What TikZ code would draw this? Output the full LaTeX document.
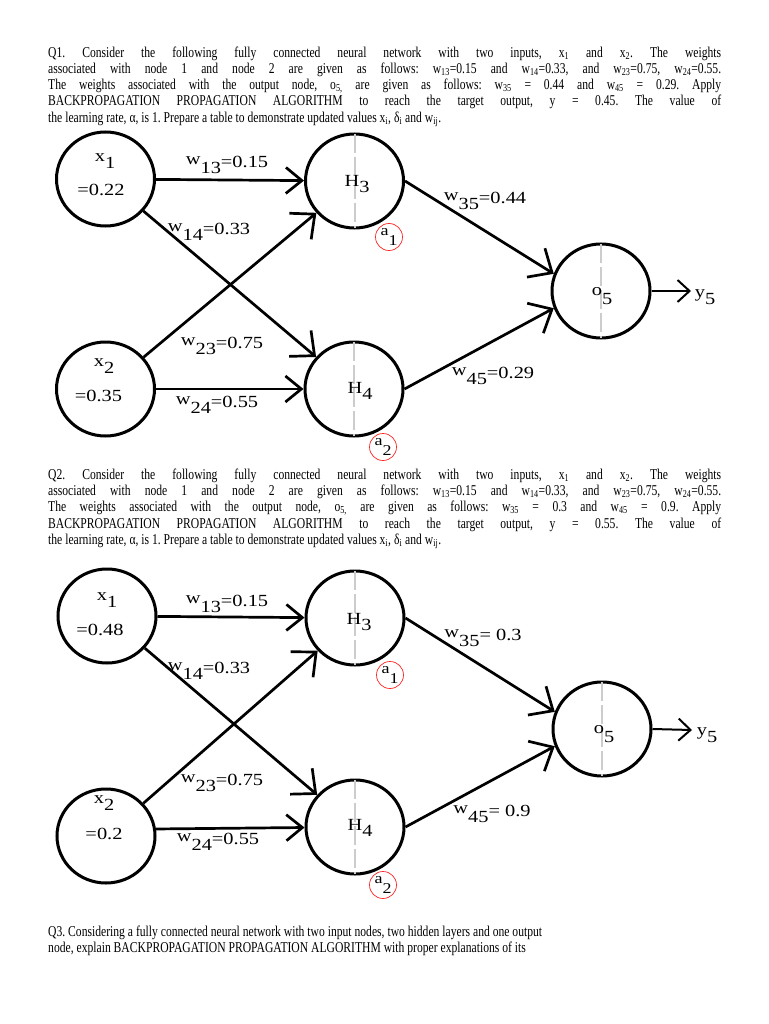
\documentclass[tikz,border=0pt]{standalone}
\usepackage{fontspec}
\setmainfont{Liberation Serif}[FakeStretch=0.775]
\newfontfamily\dgfont{Liberation Serif}[FakeStretch=1.2]
\usetikzlibrary{arrows.meta,shapes.geometric}
\newcommand\sbx[1]{\raisebox{-6.5pt}{#1}}
\newcommand\upx[1]{\raisebox{3pt}{#1}}
\newcommand\wlab[2]{\upx{w}\sbx{#1}#2}
\frenchspacing
\begin{document}
\begin{tikzpicture}[x=1pt,y=-1pt,
  neuron/.style={draw, line width=3pt, ellipse, minimum width=98pt, minimum height=94pt, inner sep=0pt},
  txt/.style={anchor=base west, inner sep=0pt, font=\fontsize{15}{18}\selectfont},
  lbl/.style={inner sep=0pt, font=\dgfont\fontsize{17}{20}\selectfont},
  edge/.style={line width=2.7pt, -{Straight Barb[length=16pt,width=26pt]}},
  dedge/.style={line width=2.7pt, -{Straight Barb[length=19pt,width=34pt]}},
  outedge/.style={line width=2pt, -{Straight Barb[length=12pt,width=22pt]}},
  hline/.style={gray!40, line width=2pt, dash pattern=on 19pt off 4pt, shorten <=1.5pt, shorten >=1.5pt},
  act/.style={circle, draw=red!85, line width=0.7pt, minimum size=27pt, inner sep=0pt, font=\dgfont\fontsize{15}{18}\selectfont}]
\useasboundingbox[fill=white] (0,0) rectangle (768,1024);

% ---------------- Q1 text ----------------
\node[txt] (q1a) at (48,57.3) {\makebox[673pt][s]{Q1. Consider the following fully connected neural network with two inputs, x\textsubscript{1} and x\textsubscript{2}. The weights}};
\node[txt] (q1b) at (48,73.5) {\makebox[673pt][s]{associated with node 1 and node 2 are given as follows: w\textsubscript{13}=0.15 and w\textsubscript{14}=0.33, and w\textsubscript{23}=0.75, w\textsubscript{24}=0.55.}};
\node[txt] (q1c) at (48,89.8) {\makebox[673pt][s]{The weights associated with the output node, o\textsubscript{5,} are given as follows: w\textsubscript{35} = 0.44 and w\textsubscript{45} = 0.29. Apply}};
\node[txt] (q1d) at (48,106) {\makebox[673pt][s]{BACKPROPAGATION PROPAGATION ALGORITHM to reach the target output, y = 0.45. The value of}};
\node[txt] (q1e) at (48,122.3) {the learning rate, α, is 1. Prepare a table to demonstrate updated values x\textsubscript{i}, δ\textsubscript{i} and w\textsubscript{ij}.};

% ---------------- Diagram 1 ----------------
\node[neuron] (x1) at (105.5,179) {};
\node[neuron] (x2) at (105.5,389) {};
\node[neuron] (h3) at (354.5,181) {};
\node[neuron] (h4) at (354,389) {};
\node[neuron] (o5) at (601,291) {};
\draw[hline] (h3.north) -- (h3.south);
\draw[hline] (h4.north) -- (h4.south);
\draw[hline] (o5.north) -- (o5.south);
\draw[edge] (x1) -- (h3);
\draw[dedge] (x1) -- (h4);
\draw[dedge] (x2) -- (h3);
\draw[edge] (x2) -- (h4);
\draw[dedge] (h3.east) -- (o5.160);
\draw[dedge] (h4.east) -- (o5.200);
\coordinate (y5a) at (691,291);
\draw[outedge] (o5.east) -- (y5a);
\node[lbl] (x1n) at (105,161) {x\sbx{1}};
\node[lbl] (x1v) at (101,189.5) {=0.22};
\node[lbl] (x2n) at (104,366) {x\sbx{2}};
\node[lbl] (x2v) at (98.5,396) {=0.35};
\node[lbl] (w13) at (227,165) {\wlab{13}{=0.15}};
\node[lbl] (w14) at (209,232) {\wlab{14}{=0.33}};
\node[lbl] (w23) at (222,346) {\wlab{23}{=0.75}};
\node[lbl] (w24) at (217,405) {\wlab{24}{=0.55}};
\node[lbl] (w35) at (485,201) {\wlab{35}{=0.44}};
\node[lbl] (w45) at (493,376) {\wlab{45}{=0.29}};
\node[lbl] (h3n) at (357,184) {H\sbx{3}};
\node[lbl] (h4n) at (360,391) {H\sbx{4}};
\node[lbl] (o5n) at (602,296) {\upx{o}\sbx{5}};
\node[lbl] (y5n) at (705,297) {y\sbx{5}};
\node[act] (a1) at (389,237) {\upx{a}\sbx{1}};
\node[act] (a2) at (383,447) {\upx{a}\sbx{2}};

% ---------------- Q2 text ----------------
\node[txt] (q2a) at (48,479) {\makebox[673pt][s]{Q2. Consider the following fully connected neural network with two inputs, x\textsubscript{1} and x\textsubscript{2}. The weights}};
\node[txt] (q2b) at (48,495.5) {\makebox[673pt][s]{associated with node 1 and node 2 are given as follows: w\textsubscript{13}=0.15 and w\textsubscript{14}=0.33, and w\textsubscript{23}=0.75, w\textsubscript{24}=0.55.}};
\node[txt] (q2c) at (48,511.8) {\makebox[673pt][s]{The weights associated with the output node, o\textsubscript{5,} are given as follows: w\textsubscript{35} = 0.3 and w\textsubscript{45} = 0.9. Apply}};
\node[txt] (q2d) at (48,528) {\makebox[673pt][s]{BACKPROPAGATION PROPAGATION ALGORITHM to reach the target output, y = 0.55. The value of}};
\node[txt] (q2e) at (48,544.3) {the learning rate, α, is 1. Prepare a table to demonstrate updated values x\textsubscript{i}, δ\textsubscript{i} and w\textsubscript{ij}.};

% ---------------- Diagram 2 ----------------
\node[neuron] (x1b) at (107,616) {};
\node[neuron] (x2b) at (106,836) {};
\node[neuron] (h3b) at (355,618) {};
\node[neuron] (h4b) at (355,827) {};
\node[neuron] (o5b) at (602,729) {};
\draw[hline] (h3b.north) -- (h3b.south);
\draw[hline] (h4b.north) -- (h4b.south);
\draw[hline] (o5b.north) -- (o5b.south);
\draw[edge] (x1b) -- (h3b);
\draw[dedge] (x1b) -- (h4b);
\draw[dedge] (x2b) -- (h3b);
\draw[edge] (x2b.8) -- (h4b);
\draw[dedge] (h3b.east) -- (o5b.160);
\draw[dedge] (h4b.east) -- (o5b.200);
\coordinate (y5b) at (692,730);
\draw[outedge] (o5b.east) -- (y5b);
\node[lbl] (x1bn) at (107,600) {x\sbx{1}};
\node[lbl] (x1bv) at (100,630) {=0.48};
\node[lbl] (x2bn) at (104,803) {x\sbx{2}};
\node[lbl] (x2bv) at (104,834) {=0.2};
\node[lbl] (w13b) at (227,604) {\wlab{13}{=0.15}};
\node[lbl] (w14b) at (209,671) {\wlab{14}{=0.33}};
\node[lbl] (w23b) at (222,783) {\wlab{23}{=0.75}};
\node[lbl] (w24b) at (218,842) {\wlab{24}{=0.55}};
\node[lbl] (w35b) at (483,638) {\wlab{35}{= 0.3}};
\node[lbl] (w45b) at (492,814) {\wlab{45}{= 0.9}};
\node[lbl] (h3bn) at (359,622) {H\sbx{3}};
\node[lbl] (h4bn) at (360,828) {H\sbx{4}};
\node[lbl] (o5bn) at (604,734) {\upx{o}\sbx{5}};
\node[lbl] (y5bn) at (707,735) {y\sbx{5}};
\node[act] (a1b) at (390,675) {\upx{a}\sbx{1}};
\node[act] (a2b) at (383,885) {\upx{a}\sbx{2}};

% ---------------- Q3 text ----------------
\node[txt] (q3a) at (48,936) {Q3. Considering a fully connected neural network with two input nodes, two hidden layers and one output};
\node[txt] (q3b) at (48,952) {node, explain BACKPROPAGATION PROPAGATION ALGORITHM with proper explanations of its};
\end{tikzpicture}
\end{document}
